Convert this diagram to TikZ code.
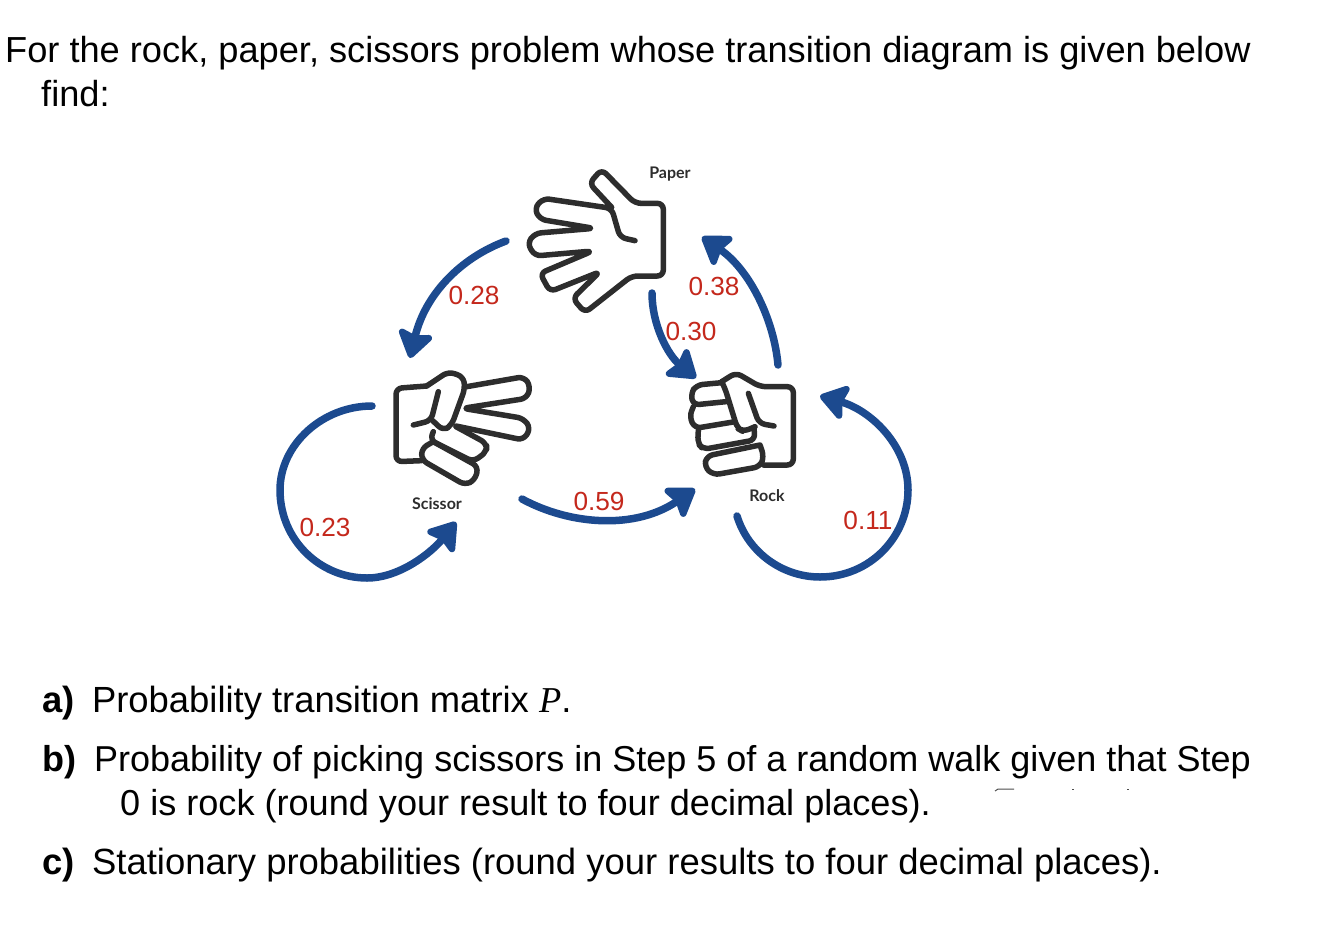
\documentclass[tikz,border=0pt]{standalone}
\usepackage{fontspec}
\setmainfont{Liberation Sans}
\newfontfamily\labelfont{Lato}
\newfontfamily\mathletter{Liberation Serif}
\usetikzlibrary{arrows.meta}
\definecolor{flowblue}{HTML}{1C4A8F}
\definecolor{probred}{HTML}{C4281C}
\definecolor{handgray}{HTML}{2D2D2D}
\tikzset{
  textline/.style={anchor=base west,inner sep=0pt,font=\fontsize{#1}{36}\selectfont},
  prob/.style={inner sep=0pt,text=probred,font=\fontsize{26.2}{26}\selectfont},
  hand/.style={inner sep=0pt,text=handgray,font=\labelfont\bfseries\fontsize{16}{16}\selectfont},
  flow/.style={draw=flowblue,line width=7.5pt,line cap=round,
    -{Stealth[round,length=31pt,width=41pt,inset=5pt,line width=9pt]}},
  outline/.style={draw=handgray,line width=5.5pt,line cap=round,line join=round,rounded corners=6pt}
}
\begin{document}
\begin{tikzpicture}[x=1pt,y=-1pt]
  \useasboundingbox (0,0) rectangle (1324,934);
  % question text
  \node [textline=36.2] (q1) at (5,63) {For the rock, paper, scissors problem whose transition diagram is given below};
  \node [textline=36.2] (q2) at (41,106) {find:};
  \node [textline=36.4] (qa) at (42,712) {\textbf{a)}\hspace{17.5pt}Probability transition matrix {\mathletter\itshape P}.};
  \node [textline=36] (qb) at (42,771) {\textbf{b)}\hspace{18pt}Probability of picking scissors in Step 5 of a random walk given that Step};
  \node [textline=36.1] (qb2) at (120,815) {0 is rock (round your result to four decimal places).};
  \node [textline=36.45] (qc) at (42,874) {\textbf{c)}\hspace{17.5pt}Stationary probabilities (round your results to four decimal places).};
  % paper hand
  \begin{scope}[shift={(500,150)},scale=1/3]
    \draw [outline] (335,172)--(268,100)--(305,58)--(405,160)--(490,160)--(490,378)--(395,378)--(255,488)--(218,445)--(300,365)
      --(150,425)--(120,370)--(278,303)--(105,318)--(82,280)--(105,250)--(282,235)--(120,208)--(103,175)--(130,145)--(335,175)--(360,262)--(405,272);
  \end{scope}
  % scissor hand
  \begin{scope}[shift={(270,360)},scale=1/3]
    \draw [outline] (455,302)--(378,305)--(378,85)--(470,78);
    \draw [outline] (470,78)--(535,35)--(580,50)--(585,85)--(545,195)--(520,212)--(488,182);
    \draw [outline] (505,95)--(483,182)--(430,195);
    \draw [outline] (590,80)--(762,50)--(782,80)--(770,115)--(578,145)--(760,175)--(782,205)--(760,240)--(558,198);
    \draw [outline] (490,215)--(480,240)--(610,305)--(650,275)--(650,250)--(558,200);
    \draw [outline] (490,245)--(455,265)--(455,300)--(585,375)--(615,360)--(625,320)--(490,245);
  \end{scope}
  % rock hand
  \begin{scope}[shift={(660,360)},scale=1/3]
    \draw [outline] (185,65)--(228,38)--(300,80)--(400,80)--(400,315)--(310,315);
    \draw [outline] (185,65)--(195,85)--(232,205)--(250,215)--(285,200);
    \draw [outline] (265,100)--(297,190)--(342,198);
    \draw [outline] (185,68)--(110,75)--(92,100)--(100,135)--(198,125);
    \draw [outline] (100,140)--(88,170)--(105,205)--(225,185);
    \draw [outline] (115,210)--(113,250)--(130,268)--(285,240)--(282,205);
    \draw [outline] (300,255)--(140,288)--(133,320)--(160,345)--(300,320)--(312,290)--(300,255);
  \end{scope}
  % hand names
  \node [hand] (paper) at (670,174) {Paper};
  \node [hand] (scissor) at (437,504) {Scissor};
  \node [hand] (rock) at (767,496) {Rock};
  % ends of the arrows
  \coordinate (ps1) at (506,241);
  \coordinate (ps2) at (410,358);
  \coordinate (pr1) at (652,293);
  \coordinate (pr2) at (696,378);
  \coordinate (rp1) at (778,365);
  \coordinate (rp2) at (702,237);
  \coordinate (sr1) at (522,499);
  \coordinate (sr2) at (695,489);
  \coordinate (ss1) at (372,406);
  \coordinate (ss2) at (280,490);
  \coordinate (ss3) at (367,578);
  \coordinate (ss4) at (456,522);
  \coordinate (rr1) at (737,516);
  \coordinate (rr2) at (820,577);
  \coordinate (rr3) at (908,490);
  \coordinate (rr4) at (820,396);
  \draw [flow] (ps1) .. controls (460,258) and (425,295) .. (ps2);
  \draw [flow] (pr1) .. controls (652,325) and (668,355) .. (pr2);
  \draw [flow] (rp1) .. controls (774,320) and (750,270) .. (rp2);
  \draw [flow] (sr1) .. controls (570,525) and (635,530) .. (sr2);
  \draw [flow] (ss1) .. controls (322,406) and (280,445) .. (ss2) .. controls (280,540) and (320,578) .. (ss3) .. controls (400,578) and (432,552) .. (ss4);
  \draw [flow] (rr1) .. controls (748,552) and (782,577) .. (rr2) .. controls (870,577) and (908,537) .. (rr3) .. controls (908,445) and (870,410) .. (rr4);
  % probabilities
  \node [prob] (l28) at (474,295) {0.28};
  \node [prob] (l38) at (714,286) {0.38};
  \node [prob] (l30) at (691,331) {0.30};
  \node [prob] (l59) at (599,501) {0.59};
  \node [prob] (l23) at (325,527) {0.23};
  \node [prob] (l11) at (868,520) {0.11};
  % cut off marks under the second part
  \draw [line width=1pt,black!70] (995,791)--(998,789)--(1014,789);
  \draw [line width=1pt,black!70] (1072,789)--(1074,789);
  \draw [line width=1pt,black!70] (1127,789)--(1129,789);
\end{tikzpicture}
\end{document}
